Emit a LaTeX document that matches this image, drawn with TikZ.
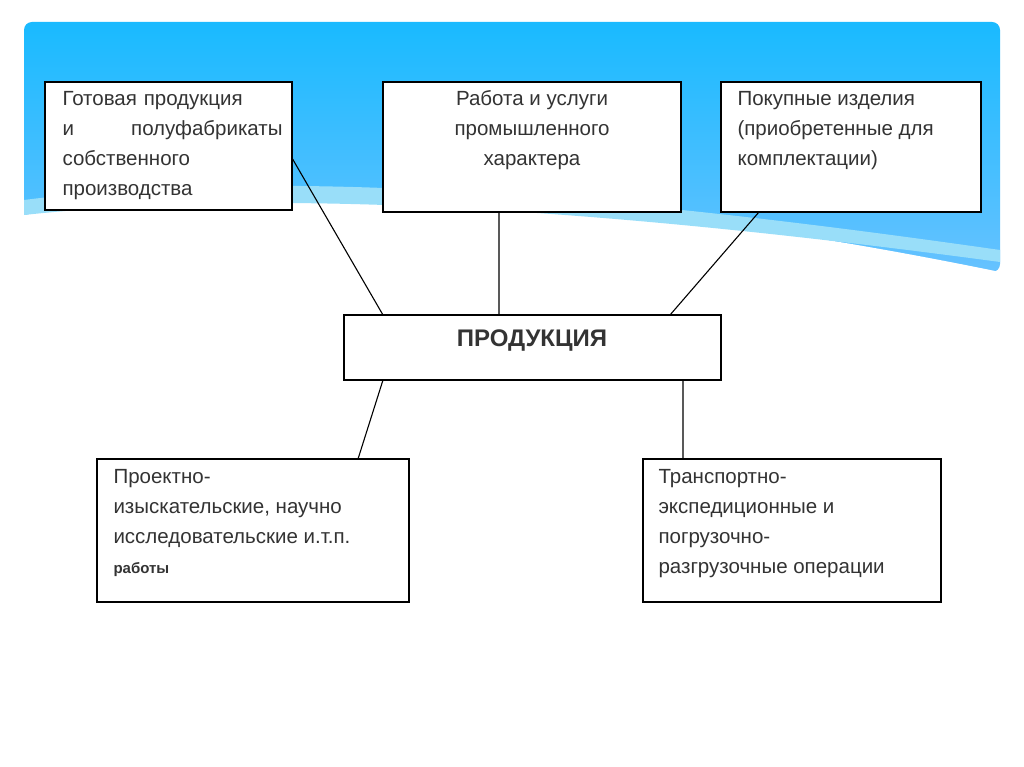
\documentclass[tikz,border=0pt]{standalone}
\usepackage{fontspec}
\setmainfont{Liberation Sans}
\begin{document}
\begin{tikzpicture}[x=1pt,y=-1pt,
 box/.style={draw=black,line width=1.2pt,fill=white,inner sep=0pt},
 txt/.style={font=\fontsize{20.5}{30}\selectfont,text=black!80}]
\useasboundingbox (0,0) rectangle (1024,767);
\fill[white] (0,0) rectangle (1024,767);
\shade[top color=cyan!70!blue!90,bottom color=cyan!60!blue!60,rounded corners=8pt]
 (24,22) -- (1000,22) -- (1000,272) -- (24,272) -- cycle;
\fill[white] (24,215) .. controls (300,170) and (650,200) .. (1000,272) -- (1000,290) -- (24,290) -- cycle;
\fill[cyan!40!white] (24,200) .. controls (300,165) and (650,200) .. (1000,250) -- (1000,262) .. controls (650,215) and (300,185) .. (24,215) -- cycle;
\node[box,minimum width=247pt,minimum height=128pt] (b1) at (168.5,146) {};
\node[txt,align=left,text width=220pt,anchor=north west] at (59,88) {Готовая продукция\\и\hfill полуфабрикаты\\собственного\\производства};
\node[box,minimum width=298pt,minimum height=130pt] (b2) at (532,147) {};
\node[txt,align=center,anchor=north] at (b2.north) [yshift=-6pt] {Работа и услуги\\промышленного\\характера};
\node[box,minimum width=260pt,minimum height=130pt] (b3) at (851,147) {};
\node[txt,align=left,anchor=north west] at (734,88) {Покупные изделия\\(приобретенные для\\комплектации)};
\node[box,minimum width=377pt,minimum height=65pt] (c) at (532.5,347.5) {};
\node[font=\fontsize{24}{28}\selectfont\bfseries,text=black!80] at (532,341) {ПРОДУКЦИЯ};
\node[box,minimum width=312pt,minimum height=143pt] (b4) at (253,530.5) {};
\node[txt,align=left,anchor=north west] at (110,466) {Проектно-\\изыскательские, научно\\исследовательские и.т.п.\\{\fontsize{15}{20}\selectfont\bfseries работы}};
\node[box,minimum width=298pt,minimum height=143pt] (b5) at (792,530.5) {};
\node[txt,align=left,anchor=north west] at (655,466) {Транспортно-\\экспедиционные и\\погрузочно-\\разгрузочные операции};
\coordinate (p1) at (292,158); \coordinate (p2) at (383,315);
\coordinate (p3) at (499,212); \coordinate (p4) at (499,315);
\coordinate (p5) at (759,212); \coordinate (p6) at (670,315);
\coordinate (p7) at (383,380); \coordinate (p8) at (358,459);
\coordinate (p9) at (683,380); \coordinate (p10) at (683,459);
\draw[line width=1.1pt] (p1)--(p2) (p3)--(p4) (p5)--(p6) (p7)--(p8) (p9)--(p10);
\end{tikzpicture}
\end{document}
